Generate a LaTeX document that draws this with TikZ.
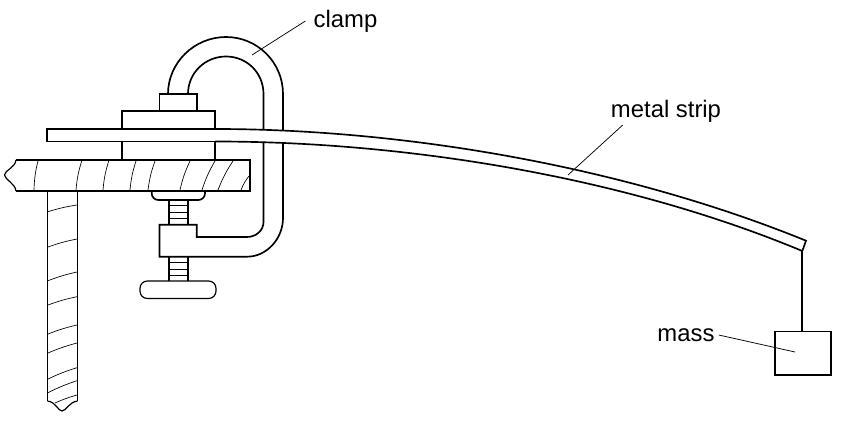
\documentclass[tikz,border=0pt]{standalone}
\usepackage{fontspec}
\setmainfont{Liberation Sans}
\begin{document}
\begin{tikzpicture}
[x=0.75pt,y=-0.75pt,%
  partdecorate/.style={-,line width=1.25pt,line join=miter},%
  thindecorate/.style={-,line width=0.9pt},%
  threaddecorate/.style={-,line width=0.6pt},%
  hatchdecorate/.style={-,line width=0.5pt},%
  leaderdecorate/.style={-,line width=0.55pt},%
  labeldecorate/.style={font=\fontsize{17.9}{20}\selectfont,inner sep=2pt},%
  massdecorate/.style={shape=rectangle,draw,line width=1.25pt,minimum width=42pt,minimum height=32.5pt,inner sep=0pt}]
\useasboundingbox (0,0) rectangle (842,427);
%% clamp
\draw[partdecorate] (168,94) .. controls (168,62.5) and (194.5,37) .. (226,37)
  .. controls (257.5,37) and (283,62.5) .. (283,94) -- (283,130);
\draw[partdecorate] (188,94) .. controls (188,73) and (205,56.5) .. (226,56.5)
  .. controls (247,56.5) and (263.5,73) .. (263.5,94) -- (263.5,130);
\draw[partdecorate] (283,143) -- (283,218) .. controls (283,238.5) and (267,256.7) .. (247,256.7)
  -- (159.5,256.7) -- (159.5,224.7) -- (196.7,224.7) -- (196.7,237) -- (247,237)
  .. controls (256,237) and (263.5,230.5) .. (263.5,222) -- (263.5,143);
\draw[partdecorate] (159.5,110.7) -- (159.5,94) -- (196.7,94) -- (196.7,110.7);
\draw[partdecorate] (122,129) -- (122,110.7) -- (215,110.7) -- (215,129);
\draw[partdecorate] (122,141.5) -- (122,160);
\draw[partdecorate] (215,141.5) -- (215,160);
%% screw and handle
\draw[partdecorate] (169,200) -- (169,224.7) (188,200) -- (188,224.7);
\draw[partdecorate] (169,256.7) -- (169,281) (188,256.7) -- (188,281);
\foreach \y in {205,212.7,218,224}
{
  \draw[threaddecorate] (169,\y) -- (188,\y);
}
\foreach \y in {262,269,275}
{
  \draw[threaddecorate] (169,\y) -- (188,\y);
}
\draw[thindecorate,rounded corners=5.5pt] (178,281) -| (216,298.5) -| (140,281) -- cycle;
\draw[partdecorate,rounded corners=5pt] (151.7,191) -- (151.7,200) -- (205,200) -- (205,191);
%% table and leg
\draw[partdecorate] (16,160) -- (250,160) -- (250,191) -- (16,191);
\draw[thindecorate] (16,160) .. controls (15,168) and (5,170) .. (4.5,175)
  .. controls (5,180) and (15,183) .. (16,191);
\draw[partdecorate] (47.5,191) -- (47.5,401) (77.5,191) -- (77.5,401);
\draw[thindecorate] (47.5,401) .. controls (56,402) and (58,411) .. (62,411)
  .. controls (66,411) and (69,402) .. (77.5,401);
\foreach \xa/\xb in {38/34, 81.7/76, 108.7/103, 136/130, 155/148, 190/180, 215/202, 233/218}
{
  \draw[hatchdecorate] (\xa,161) to[bend right=6] (\xb,190);
}
\draw[hatchdecorate] (249,176) to[bend right=8] (241,190);
\foreach \ya/\yb in {211.7/205, 247/239, 280.7/272, 305/296.7, 334/325, 353/343, 379/367.7, 392.7/380.7}
{
  \draw[hatchdecorate] (48,\ya) to[bend left=4] (77,\yb);
}
\draw[hatchdecorate] (55,403) to[bend left=4] (77,395);
%% metal strip
\coordinate (stripend) at (802.3,251);
\draw[partdecorate] (122,129) -- (47,129) -- (47,141.5) -- (122,141.5);
\draw[thindecorate] (122,129) -- (215,129) (122,141.5) -- (215,141.5);
\draw[partdecorate] (215,129) .. controls (400,129) and (620,165) .. (806,240.7)
  -- (stripend);
\draw[partdecorate] (215,141.5) .. controls (400,141.5) and (620,175) .. (stripend);
%% mass and labels
\node (massbox) at (803.2,353.2) [massdecorate] {};
\draw[partdecorate] (stripend) -- (stripend |- massbox.north);
\node (clamplabel) at (345.5,21) [labeldecorate] {clamp};
\node (striplabel) at (666,111) [labeldecorate] {metal strip};
\node (masslabel) at (686,335) [labeldecorate] {mass};
\coordinate (clamptip) at (252,55);
\coordinate (striptip) at (568,175);
\coordinate (masstip) at (795,352);
\draw[leaderdecorate] ([xshift=-4pt]clamplabel.west) -- (clamptip);
\draw[leaderdecorate] ([xshift=11pt]striplabel.south west) -- (striptip);
\draw[leaderdecorate] ([xshift=1pt]masslabel.east) -- (masstip);
\end{tikzpicture}
\end{document}
